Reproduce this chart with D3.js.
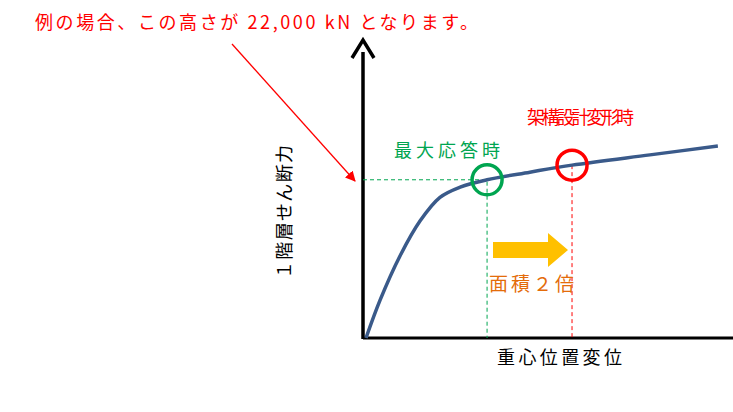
<!DOCTYPE html>
<html><head><meta charset="utf-8">
<script src="https://cdn.jsdelivr.net/npm/d3@7"></script>
<style>body{margin:0;background:#fff}text{font-family:"Noto Sans CJK JP","Noto Sans",sans-serif}</style>
</head><body><svg id="c" width="733" height="412"></svg>
<script>
// curve (0..100 relative units)
const curveX = [0, 4, 9.6, 15.3, 20.9, 26.6, 34.2, 46.3, 58.2, 80.2, 99.4];
const curveY = [0, 13, 28, 40, 48, 51.5, 54, 56.6, 59, 62.5, 65.5];
const maxResp = [34.2, 54];
const designPt = [58.2, 59];

const svg = d3.select("#c");
const x = d3.scaleLinear().domain([0, 100]).range([366, 720]);
const y = d3.scaleLinear().domain([0, 100]).range([338, 45]);

svg.append("defs").append("marker").attr("id", "ah").attr("viewBox", "0 0 10 10")
  .attr("refX", 9).attr("refY", 5).attr("markerWidth", 8).attr("markerHeight", 8).attr("orient", "auto")
  .append("path").attr("d", "M0,0L10,5L0,10z").attr("fill", "red");

// axes
svg.append("line").attr("x1", 363).attr("y1", 338).attr("x2", 733).attr("y2", 338).attr("stroke", "#000").attr("stroke-width", 3);
svg.append("line").attr("x1", 363).attr("y1", 339).attr("x2", 363).attr("y2", 52).attr("stroke", "#000").attr("stroke-width", 3.5);
svg.append("path").attr("d", "M352,58L363,40L374,58").attr("fill", "none").attr("stroke", "#000").attr("stroke-width", 3.5);

// dashed guides
const g = "#00a550";
svg.append("path").attr("d", `M363,${y(maxResp[1])}H${x(maxResp[0])}V338`).attr("fill", "none").attr("stroke", g).attr("stroke-dasharray", "4,3");
svg.append("path").attr("d", `M${x(designPt[0])},${y(designPt[1])}V338`).attr("fill", "none").attr("stroke", "red").attr("stroke-dasharray", "4,3");

// curve
svg.append("path").datum(curveX.map((d, i) => [d, curveY[i]]))
  .attr("d", d3.line().x(d => x(d[0])).y(d => y(d[1])).curve(d3.curveCatmullRom.alpha(0.5)))
  .attr("fill", "none").attr("stroke", "#3a5a8a").attr("stroke-width", 3.5);

svg.append("circle").attr("cx", x(maxResp[0])).attr("cy", y(maxResp[1])).attr("r", 15).attr("fill", "none").attr("stroke", g).attr("stroke-width", 3.5);
svg.append("circle").attr("cx", x(designPt[0])).attr("cy", y(designPt[1])).attr("r", 15).attr("fill", "none").attr("stroke", "red").attr("stroke-width", 3.5);

// orange arrow
svg.append("path").attr("d", "M493,242H548V233L568,250L548,267V258H493Z").attr("fill", "#ffc000");

// texts
function label(tx, ty, s, fill, size, len) {
  return svg.append("text").attr("x", tx).attr("y", ty).attr("fill", fill).attr("font-size", size)
    .attr("textLength", len).attr("lengthAdjust", "spacing").text(s);
}
label(35, 29, "例の場合、この高さが 22,000 kN となります。", "red", 18, 443);
svg.append("line").attr("x1", 232).attr("y1", 44).attr("x2", 355).attr("y2", 181).attr("stroke", "red").attr("stroke-width", 1.3).attr("marker-end", "url(#ah)");
label(527, 124, "架構設計変形時", "red", 18, 107);
label(394, 157, "最大応答時", g, 18, 106);
label(489, 291, "面積２倍", "#e46c0a", 19, 85);
label(497, 364, "重心位置変位", "#000", 18, 125);
svg.append("text").attr("transform", "translate(291,212) rotate(-90)").attr("text-anchor", "middle")
  .attr("font-size", 18).attr("textLength", 134).attr("lengthAdjust", "spacing").text("１階層せん断力");
</script></body></html>
